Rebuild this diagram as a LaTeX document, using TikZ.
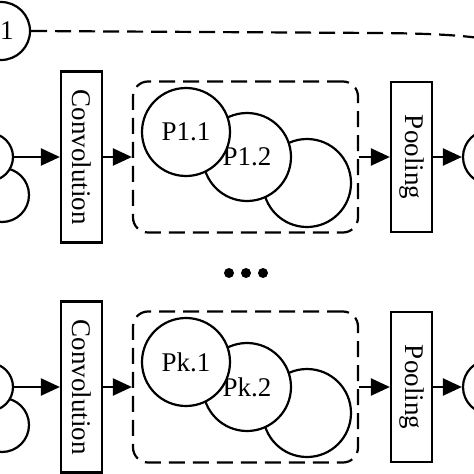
\documentclass[tikz,border=0pt]{standalone}
\usepackage{fontspec}
\setmainfont{Liberation Serif}
\usetikzlibrary{arrows.meta}
\begin{document}
\begin{tikzpicture}[x=1pt,y=-1pt,line width=2.2pt,
    font=\fontsize{27}{32}\selectfont,
    circ/.style={draw,circle,fill=white,inner sep=0pt},
    pc/.style={circ,minimum size=88pt},
    opbox/.style={draw,inner sep=0pt,minimum width=41pt},
    dbox/.style={draw,rounded corners=15pt,dash pattern=on 16pt off 8pt,
      minimum width=225pt,minimum height=151pt},
    arr/.style={-{Triangle[length=19pt,width=17pt]}}]
  \useasboundingbox (0,0) rectangle (474,474);
  % top
  \node[circ,minimum size=58pt] (top) at (1,31) {};
  \node (topnum) at (7,31) {1};
  \coordinate (topend) at (480,38);
  \draw[dash pattern=on 16pt off 8pt] (top.east) -- (380,33)
    .. controls (430,33.5) and (455,35) .. (topend);
  % first row
  \draw (2,195) circle (27);
  \node[circ,minimum size=48pt] (a1) at (-11,157) {};
  \node[opbox,minimum height=171pt] (c1) at (81.5,157) {\rotatebox{-90}{Convolution}};
  \node[dbox] (g1) at (245.5,157) {};
  \node[pc] (p13) at (307,183) {};
  \node[pc] (p12) at (247,157) {P1.2};
  \node[pc] (p11) at (186,132) {P1.1};
  \node[opbox,minimum height=150pt] (pl1) at (411.5,157) {\rotatebox{-90}{Pooling}};
  \node[circ,minimum size=54pt] (o1) at (490,157) {};
  \draw[arr] (a1.east) -- (c1.west);
  \draw[arr] (c1.east) -- (g1.west);
  \draw[arr] (g1.east) -- (pl1.west);
  \draw[arr] (pl1.east) -- (o1.west);
  % dots
  \foreach \x in {229,246,263}
    \fill (\x,273) circle (5);
  % second row
  \draw (2,425) circle (27);
  \node[circ,minimum size=48pt] (a2) at (-11,387) {};
  \node[opbox,minimum height=171pt] (c2) at (81.5,387) {\rotatebox{-90}{Convolution}};
  \node[dbox] (g2) at (245.5,387) {};
  \node[pc] (p23) at (307,413) {};
  \node[pc] (p22) at (247,387) {Pk.2};
  \node[pc] (p21) at (186,362) {Pk.1};
  \node[opbox,minimum height=150pt] (pl2) at (411.5,387) {\rotatebox{-90}{Pooling}};
  \node[circ,minimum size=54pt] (o2) at (490,387) {};
  \draw[arr] (a2.east) -- (c2.west);
  \draw[arr] (c2.east) -- (g2.west);
  \draw[arr] (g2.east) -- (pl2.west);
  \draw[arr] (pl2.east) -- (o2.west);
\end{tikzpicture}
\end{document}
